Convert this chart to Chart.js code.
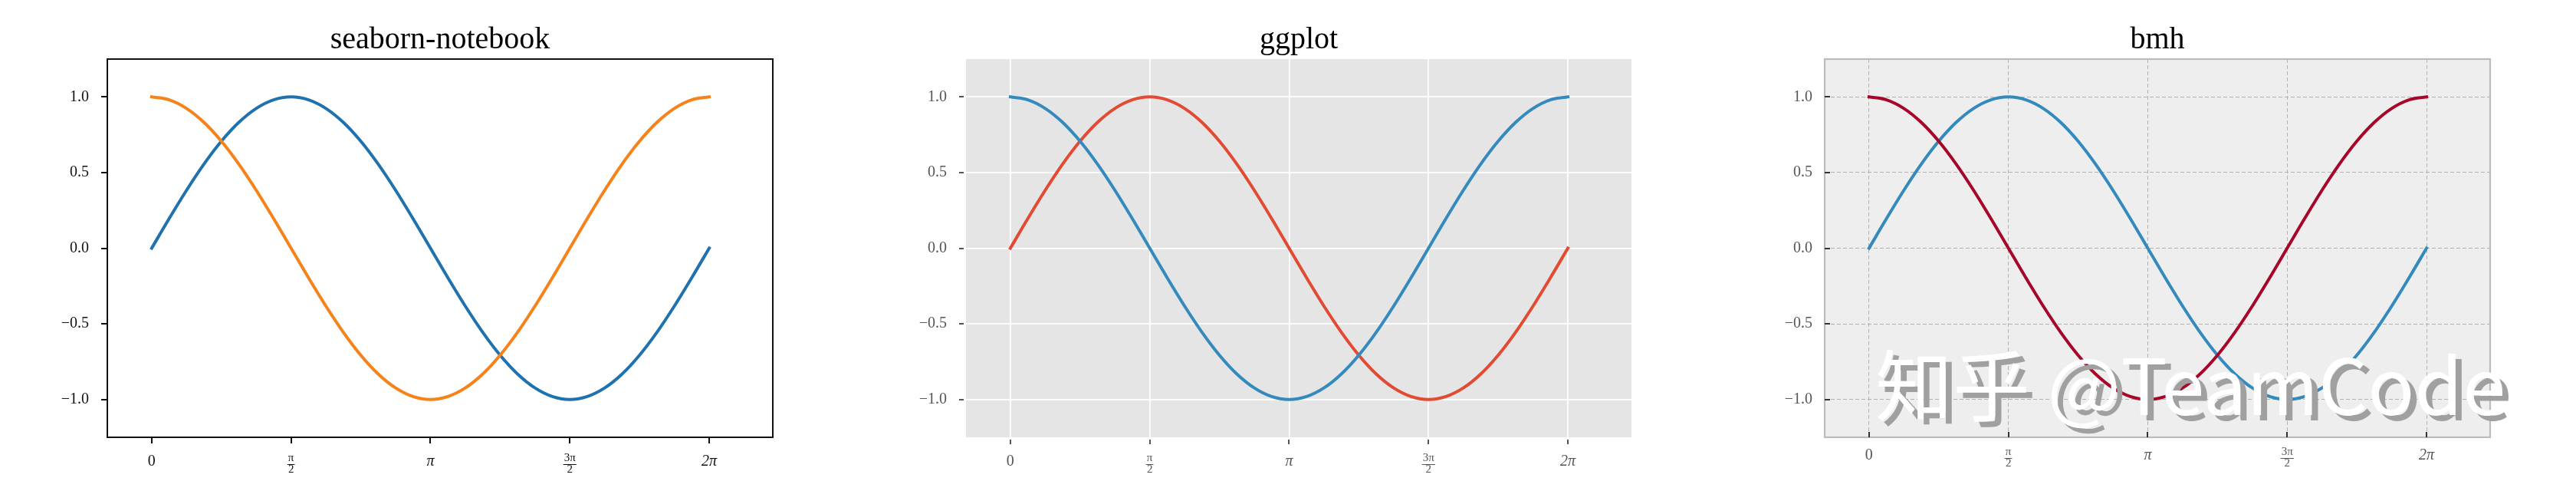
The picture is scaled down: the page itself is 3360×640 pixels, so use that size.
<!DOCTYPE html>
<html>
<head>
<meta charset="utf-8">
<script src="https://cdn.jsdelivr.net/npm/chart.js@4.4.1/dist/chart.umd.min.js"></script>
<style>
    body { margin: 0; background: #fff; width: 3360px; height: 640px; overflow: hidden; position: relative; }
    canvas { position: absolute; top: 0; }
    #wm {
        position: absolute; left: 2446px; top: 447px;
        font-family: "Noto Sans CJK SC"; font-size: 101px; line-height: 1;
        color: #fff; text-shadow: 8px 7px 0 #a0a0a0; white-space: nowrap;
    }
</style>
</head>
<body>
<canvas id="c1" width="1120" height="640" style="left:0px"></canvas>
<canvas id="c2" width="1120" height="640" style="left:1120px"></canvas>
<canvas id="c3" width="1120" height="640" style="left:2240px"></canvas>
<div id="wm">知乎 @TeamCode</div>
<script>
// sampled curve, step pi/16
var xValues = [0, 0.1963, 0.3927, 0.5890, 0.7854, 0.9817, 1.1781, 1.3744, 1.5708, 1.7671, 1.9635,
    2.1598, 2.3562, 2.5525, 2.7489, 2.9452, 3.1416, 3.3379, 3.5343, 3.7306, 3.9270, 4.1233,
    4.3197, 4.5160, 4.7124, 4.9087, 5.1051, 5.3014, 5.4978, 5.6941, 5.8905, 6.0868, 6.2832];
var sinValues = [0, 0.1951, 0.3827, 0.5556, 0.7071, 0.8315, 0.9239, 0.9808, 1, 0.9808, 0.9239,
    0.8315, 0.7071, 0.5556, 0.3827, 0.1951, 0, -0.1951, -0.3827, -0.5556, -0.7071, -0.8315,
    -0.9239, -0.9808, -1, -0.9808, -0.9239, -0.8315, -0.7071, -0.5556, -0.3827, -0.1951, 0];
var cosValues = [1, 0.9808, 0.9239, 0.8315, 0.7071, 0.5556, 0.3827, 0.1951, 0, -0.1951, -0.3827,
    -0.5556, -0.7071, -0.8315, -0.9239, -0.9808, -1, -0.9808, -0.9239, -0.8315, -0.7071, -0.5556,
    -0.3827, -0.1951, 0, 0.1951, 0.3827, 0.5556, 0.7071, 0.8315, 0.9239, 0.9808, 1];

var xTickValues = [0, 1.5708, 3.1416, 4.7124, 6.2832];
var xTickLabels = ['0', ['π', '2'], 'π', ['3π', '2'], '2π'];
var yTickValues = [-1, -0.5, 0, 0.5, 1];
var yTickLabels = ['−1.0', '−0.5', '0.0', '0.5', '1.0'];
var styleNames = ['seaborn-notebook', 'ggplot', 'bmh'];

var styles = [
    { colors: ['#1f72ad', '#f5821a'], bg: '#ffffff', border: '#111111', borderWidth: 2,
      labelColor: '#111111', grid: false, gridColor: '#fff', gridWidth: 0, dash: [],
      tickColor: '#111111', tickStart: 0, tickLength: 8, tickWidth: 2, xPad: 20, yPad: 24 },
    { colors: ['#E24A33', '#348ABD'], bg: '#E5E5E5', border: null, borderWidth: 0,
      labelColor: '#555555', grid: true, gridColor: '#ffffff', gridWidth: 1.7, dash: [],
      tickColor: '#555555', tickStart: 3, tickLength: 6, tickWidth: 2, xPad: 20, yPad: 25 },
    { colors: ['#348ABD', '#A60628'], bg: '#EEEEEE', border: '#bcbcbc', borderWidth: 2.2,
      labelColor: '#555555', grid: true, gridColor: '#b2b2b2', gridWidth: 1, dash: [5, 3],
      tickColor: '#333333', tickStart: 0, tickLength: -7, tickWidth: 2, xPad: 12, yPad: 16 }
];

function tickFont(label) {
    if (Array.isArray(label)) return { family: 'Liberation Serif', size: 15, lineHeight: 1.0 };
    return { family: 'Liberation Serif', size: 20, lineHeight: 1.15,
             style: label.indexOf('π') >= 0 ? 'italic' : 'normal' };
}

// axes background, frame, title, tick marks and fraction bars
var framePlugin = {
    id: 'frame',
    beforeDraw: function(chart, args, o) {
        var a = chart.chartArea, ctx = chart.ctx;
        ctx.save();
        ctx.fillStyle = o.bg;
        ctx.fillRect(a.left, a.top, a.right - a.left, a.bottom - a.top);
        ctx.restore();
    },
    afterDraw: function(chart, args, o) {
        var a = chart.chartArea, ctx = chart.ctx;
        var xs = chart.scales.x, ys = chart.scales.y;
        ctx.save();
        if (o.border) {
            ctx.strokeStyle = o.border;
            ctx.lineWidth = o.borderWidth;
            ctx.strokeRect(a.left, a.top, a.right - a.left, a.bottom - a.top);
        }
        ctx.strokeStyle = o.tickColor;
        ctx.lineWidth = o.tickWidth;
        xs.ticks.forEach(function(t) {
            var px = Math.round(xs.getPixelForValue(t.value));
            ctx.beginPath();
            ctx.moveTo(px, a.bottom + o.tickStart);
            ctx.lineTo(px, a.bottom + o.tickStart + o.tickLength);
            ctx.stroke();
        });
        ys.ticks.forEach(function(t) {
            var py = Math.round(ys.getPixelForValue(t.value));
            ctx.beginPath();
            ctx.moveTo(a.left - o.tickStart, py);
            ctx.lineTo(a.left - o.tickStart - o.tickLength, py);
            ctx.stroke();
        });
        // bar between numerator and denominator
        ctx.strokeStyle = o.labelColor;
        ctx.lineWidth = 1;
        xs.ticks.forEach(function(t, i) {
            var lab = xTickLabels[i];
            if (!Array.isArray(lab)) return;
            var f = tickFont(lab);
            ctx.font = f.size + 'px "' + f.family + '"';
            var w = Math.max(ctx.measureText(lab[0]).width, ctx.measureText(lab[1]).width) + 2;
            var px = xs.getPixelForValue(t.value);
            var y = a.bottom + o.xPad + f.size * f.lineHeight + 0.5;
            ctx.beginPath();
            ctx.moveTo(px - w / 2, y);
            ctx.lineTo(px + w / 2, y);
            ctx.stroke();
        });
        // title centred over the axes
        ctx.fillStyle = '#000';
        ctx.font = '40px "Liberation Serif"';
        ctx.textAlign = 'center';
        ctx.textBaseline = 'alphabetic';
        ctx.fillText(o.title, (a.left + a.right) / 2, 63);
        ctx.restore();
    }
};

function makeChart(id, name, st) {
    var sinPts = xValues.map(function(x, i) { return { x: x, y: sinValues[i] }; });
    var cosPts = xValues.map(function(x, i) { return { x: x, y: cosValues[i] }; });
    var line = { pointRadius: 0, borderWidth: 4, fill: false, cubicInterpolationMode: 'monotone',
                 borderCapStyle: 'square', borderJoinStyle: 'round' };

    return new Chart(document.getElementById(id), {
        type: 'line',
        data: {
            datasets: [
                Object.assign({ label: 'sin', data: sinPts, borderColor: st.colors[0], order: 1 }, line),
                Object.assign({ label: 'cos', data: cosPts, borderColor: st.colors[1], order: 0 }, line)
            ]
        },
        options: {
            responsive: false,
            animation: false,
            devicePixelRatio: 1,
            layout: { padding: { left: 0, right: 112, top: 77, bottom: 0 } },
            plugins: {
                legend: { display: false },
                tooltip: { enabled: false },
                title: { display: false },
                frame: Object.assign({ title: name }, st)
            },
            scales: {
                x: {
                    type: 'linear',
                    min: -0.5,
                    max: 7,
                    afterBuildTicks: function(s) { s.ticks = xTickValues.map(function(v) { return { value: v }; }); },
                    afterFit: function(s) { s.height = 70; },
                    grid: { display: st.grid, color: st.gridColor, lineWidth: st.gridWidth, drawTicks: false },
                    border: { display: false, dash: st.dash },
                    ticks: {
                        autoSkip: false,
                        maxRotation: 0,
                        padding: st.xPad,
                        color: st.labelColor,
                        font: function(c) { return tickFont(xTickLabels[c.index] || ''); },
                        callback: function(v, i) { return xTickLabels[i]; }
                    }
                },
                y: {
                    type: 'linear',
                    min: -1.25,
                    max: 1.25,
                    afterBuildTicks: function(s) { s.ticks = yTickValues.map(function(v) { return { value: v }; }); },
                    afterFit: function(s) { s.width = 140; },
                    grid: { display: st.grid, color: st.gridColor, lineWidth: st.gridWidth, drawTicks: false },
                    border: { display: false, dash: st.dash },
                    ticks: {
                        padding: st.yPad,
                        color: st.labelColor,
                        font: { family: 'Liberation Serif', size: 20 },
                        callback: function(v, i) { return yTickLabels[i]; }
                    }
                }
            }
        },
        plugins: [framePlugin]
    });
}

makeChart('c1', styleNames[0], styles[0]);
makeChart('c2', styleNames[1], styles[1]);
makeChart('c3', styleNames[2], styles[2]);
</script>
</body>
</html>
